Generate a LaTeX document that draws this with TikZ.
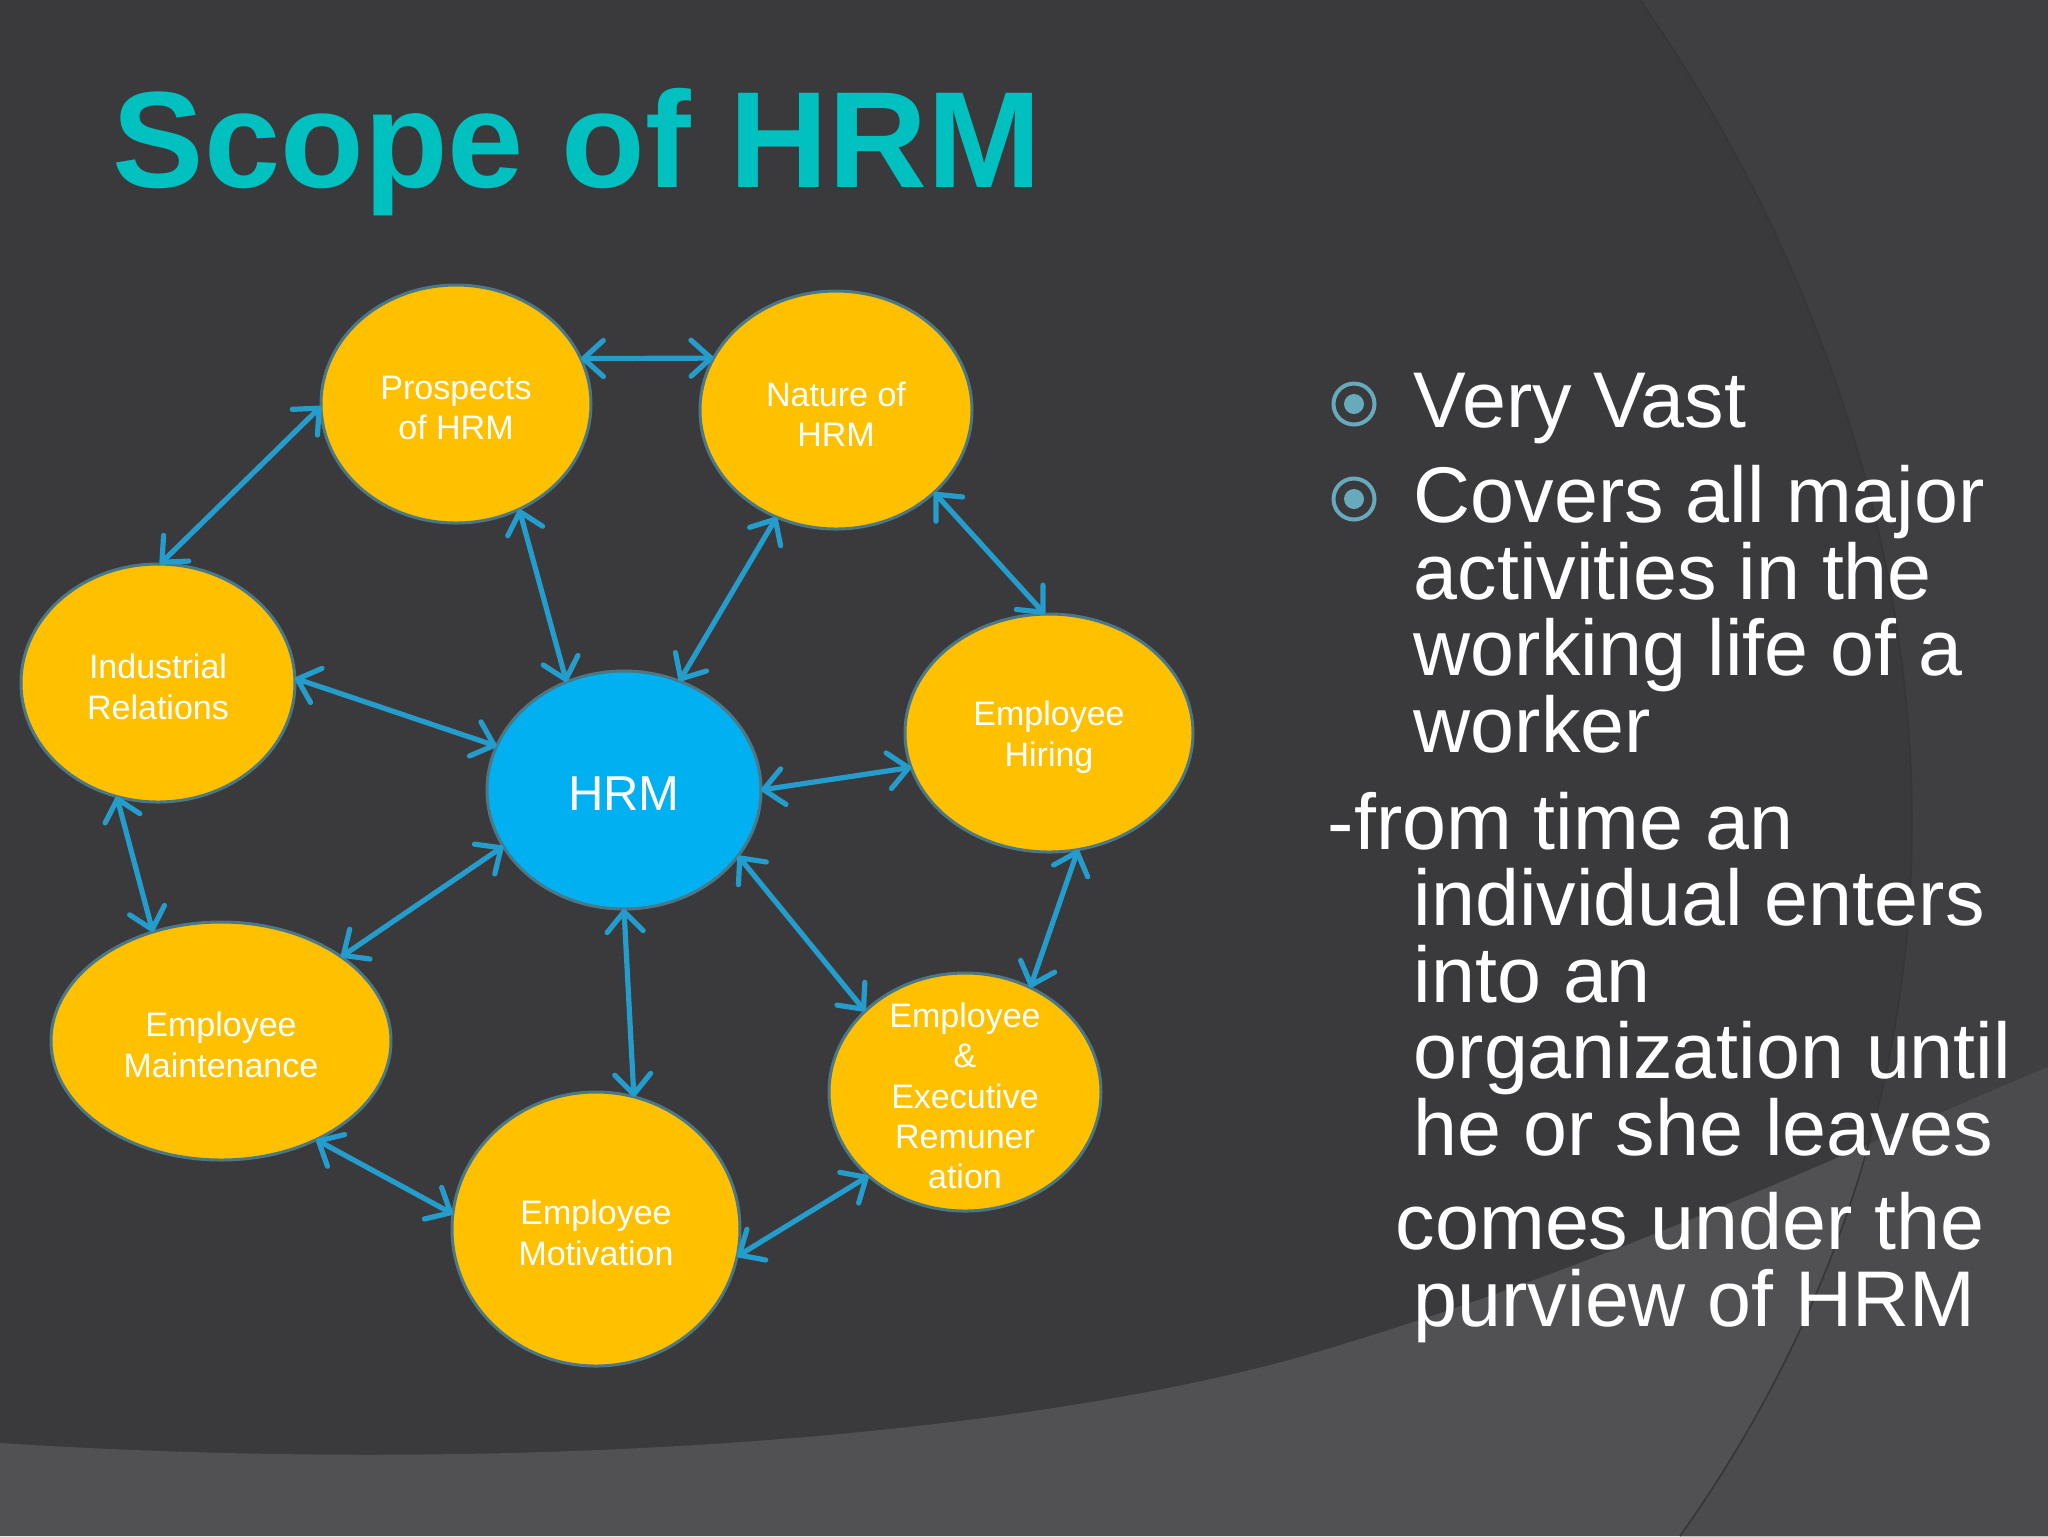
\documentclass[tikz,border=0pt]{standalone}
\usepackage{fontspec}
\setmainfont{Liberation Sans}
\usetikzlibrary{shapes.geometric,arrows.meta}
\definecolor{bgbase}{RGB}{58,57,60}
\definecolor{bgright}{RGB}{63,62,65}
\definecolor{bgbottom}{RGB}{81,80,83}
\definecolor{bgbotright}{RGB}{75,74,77}
\definecolor{arcline}{RGB}{54,53,56}
\definecolor{titlec}{RGB}{0,192,192}
\definecolor{ylw}{RGB}{255,192,0}
\definecolor{hrmc}{RGB}{0,176,240}
\definecolor{edgec}{RGB}{75,120,135}
\definecolor{arrc}{RGB}{36,156,204}
\definecolor{bulc}{RGB}{102,170,188}
\begin{document}
\begin{tikzpicture}[x=0.25pt,y=-0.25pt,
  bubble/.style={ellipse,draw=edgec,line width=0.75pt,fill=ylw,inner sep=0pt,outer sep=0pt},
  btxt/.style={text=white,font=\fontsize{8.5pt}{10.1pt}\selectfont,align=center,inner sep=0pt,yshift=-1pt},
  arr/.style={draw=arrc,line width=1.3pt,line cap=round,
    {Straight Barb[length=5pt,width=9pt,round]}-{Straight Barb[length=5pt,width=9pt,round]}},
  rtxt/.style={text=white,font=\fontsize{19.75pt}{19.1pt}\selectfont,align=left,inner sep=0pt,anchor=base west},
  bullet/.style={circle,draw=bulc,line width=1pt,minimum size=10.25pt,inner sep=0pt}
]
\useasboundingbox (0,0) rectangle (2048,1536);
% background
\fill[bgbase] (0,0) rectangle (2048,1536);
\fill[bgright] (1640,0) .. controls (1920,400) and (2060,1000) .. (1680,1536) -- (2048,1536) -- (2048,0) -- cycle;
\fill[bgbottom] (0,1443) .. controls (500,1475) and (1000,1440) .. (1300,1357) .. controls (1600,1270) and (1850,1150) .. (2048,1067) -- (2048,1536) -- (0,1536) -- cycle;
\begin{scope}
\clip (0,1443) .. controls (500,1475) and (1000,1440) .. (1300,1357) .. controls (1600,1270) and (1850,1150) .. (2048,1067) -- (2048,1536) -- (0,1536) -- cycle;
\fill[bgbotright] (1640,0) .. controls (1920,400) and (2060,1000) .. (1680,1536) -- (2048,1536) -- (2048,0) -- cycle;
\end{scope}
\draw[arcline,line width=0.4pt] (1640,0) .. controls (1920,400) and (2060,1000) .. (1680,1536);
% title
\node[anchor=base west,inner sep=0pt,text=titlec,font=\bfseries\fontsize{34.25pt}{40pt}\selectfont] (title) at (112,187) {Scope of HRM};
% bubbles
\node[bubble,minimum width=67.5pt,minimum height=59.5pt] (pros) at (456,404) {};
\node[btxt] (prost) at (pros) {Prospects\\of HRM};
\node[bubble,minimum width=68pt,minimum height=59.5pt] (nat) at (836,410) {};
\node[btxt] (natt) at (nat) {Nature of\\HRM};
\node[bubble,minimum width=68.5pt,minimum height=59.5pt] (ind) at (158,683) {};
\node[btxt] (indt) at (ind) {Industrial\\Relations};
\node[bubble,fill=hrmc,minimum width=68.5pt,minimum height=59.5pt] (hrm) at (624,790) {};
\node[btxt,font=\fontsize{12.25pt}{14pt}\selectfont] (hrmt) at (hrm) {HRM};
\node[bubble,minimum width=72pt,minimum height=59.5pt] (hir) at (1049,733) {};
\node[btxt] (hirt) at (hir) {Employee\\Hiring};
\node[bubble,minimum width=85pt,minimum height=59.5pt] (mai) at (221,1041) {};
\node[btxt] (mait) at (mai) {Employee\\Maintenance};
\node[bubble,minimum width=72pt,minimum height=68.5pt] (mot) at (596,1229) {};
\node[btxt] (mott) at (mot) {Employee\\Motivation};
\node[bubble,minimum width=68pt,minimum height=59.5pt] (rem) at (965,1092) {};
\node[btxt] (remt) at (rem) {Employee\\\&\\Executive\\Remuner\\ation};
% connectors
\draw[arr] (pros.20) -- (nat.157);
\draw[arr] (ind.89) -- (pros.181);
\draw[arr] (pros.-59) -- (hrm.118);
\draw[arr] (nat.241) -- (hrm.63);
\draw[arr] (nat.-40) -- (hir.92);
\draw[arr] (ind.2) -- (hrm.161);
\draw[arr] (hrm.0) -- (hir.194);
\draw[arr] (ind.250) -- (mai.122);
\draw[arr] (hrm.205) -- (mai.35);
\draw[arr] (hrm.270) -- (mot.74);
\draw[arr] (hrm.-30) -- (rem.141);
\draw[arr] (hir.-76) -- (rem.58);
\draw[arr] (mai.-46) -- (mot.174);
\draw[arr] (mot.-11) -- (rem.221);
% right text (multi-line nodes are placed at the baseline of their last line)
\node[bullet] (b1) at (1354,404) {};
\fill[bulc] (b1.center) circle (2.5pt);
\node[bullet] (b2) at (1354,499) {};
\fill[bulc] (b2.center) circle (2.5pt);
\node[rtxt] (t1) at (1413,427) {Very Vast};
\node[rtxt] (t2) at (1413,752) {Covers all major\\activities in the\\working life of a\\worker};
\node[rtxt] (t3) at (1327,1155) {-from time an\\\hspace*{21.5pt}individual enters\\\hspace*{21.5pt}into an\\\hspace*{21.5pt}organization until\\\hspace*{21.5pt}he or she leaves};
\node[rtxt] (t4) at (1395,1326) {comes under the\\\hspace*{4.5pt}purview of HRM};
\end{tikzpicture}
\end{document}
